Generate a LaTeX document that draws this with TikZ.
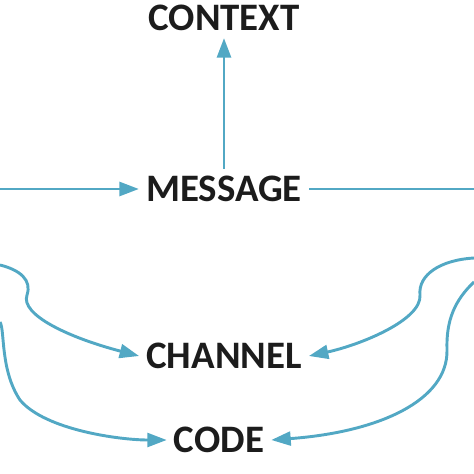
\documentclass[tikz,border=0pt]{standalone}
\usepackage{fontspec}
\setmainfont{Carlito}
\usetikzlibrary{arrows.meta}

\definecolor{flowblue}{RGB}{82,168,196}
\definecolor{inkgray}{RGB}{28,28,28}

\begin{document}
\begin{tikzpicture}[
			x = 0.0253cm, y = -0.0253cm,
			every node/.style={font=\fontsize{28}{31}\selectfont\bfseries, text=inkgray, inner sep=5pt},
			flow/.style={flowblue, line width=2.1pt, -{Triangle[length=14pt,width=10pt]}},
			flowline/.style={flowblue, line width=2.1pt}
			]

			\useasboundingbox (0,0) rectangle (474,474);

			\node (context) at (224,18) {CONTEXT};
			\node (message) at (224,189) {MESSAGE};
			\node (channel) at (224,356) {CHANNEL};
			\node (code) at (219,440) {CODE};

			\coordinate (inmsg) at (0,189);
			\coordinate (outmsg) at (474,189);
			\coordinate (lefttop) at (0,265);
			\coordinate (leftbot) at (0,322);
			\coordinate (righttop) at (474,258);
			\coordinate (rightbot) at (474,282);

			\draw[flow] (message.north) -- (context.south);
			\draw[flow] (inmsg) -- (message.west);
			\draw[flowline] (message.east) -- (outmsg);

			% curves from the left edge
			\draw[flow] (lefttop) .. controls (20,270) and (32,280) .. (27,295)
				.. controls (20,315) and (70,338) .. (channel.west);
			\draw[flow] (leftbot) .. controls (5,330) and (0,370) .. (20,400)
				.. controls (45,430) and (120,440) .. (code.west);

			% curves from the right edge
			\draw[flow] (righttop) .. controls (440,260) and (418,275) .. (420,295)
				.. controls (422,320) and (360,345) .. (channel.east);
			\draw[flow] (rightbot) .. controls (455,300) and (446,320) .. (447,350)
				.. controls (448,400) and (380,432) .. (code.east);

		\end{tikzpicture}
\end{document}
